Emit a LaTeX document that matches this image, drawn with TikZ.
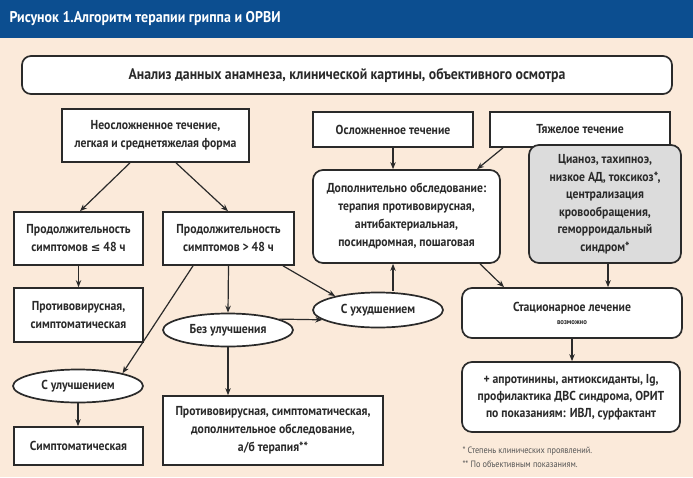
\documentclass[tikz,border=0pt]{standalone}
\usepackage{fontspec}
\setmainfont[FakeStretch=0.9]{PT Sans}
\newfontfamily\symf{DejaVu Sans}
\usetikzlibrary{arrows.meta,shapes.geometric}
\definecolor{barblue}{HTML}{0C4E90}
\definecolor{bgbeige}{HTML}{FBEADA}
\definecolor{ink}{HTML}{2A2A2A}
\definecolor{grayfill}{HTML}{DCDCDC}
\definecolor{notegray}{HTML}{555555}
\begin{document}
\begin{tikzpicture}[x=1pt,y=-1pt,
  box/.style={draw=ink, line width=1.7pt, fill=white, align=center, inner sep=0pt,
    text=ink, font=\bfseries\fontsize{13}{18}\selectfont},
  rbox/.style={box, rounded corners=10pt},
  oval/.style={draw=ink, line width=1.7pt, fill=white, ellipse, inner sep=0pt,
    text=ink, font=\bfseries\fontsize{13}{18}\selectfont},
  arr/.style={draw=ink, line width=1.2pt, -{Stealth[length=7pt,width=5.5pt]}},
  note/.style={anchor=west, text=notegray, font=\fontsize{9.2}{10}\selectfont}
]
\useasboundingbox (0,0) rectangle (693,477);
\fill[bgbeige] (0,0) rectangle (693,477);
\fill[barblue] (0,0) rectangle (693,38);
\node[anchor=west, text=white, font=\bfseries\fontsize{15.5}{17}\selectfont] (title) at (6,19)
  {Рисунок 1.Алгоритм терапии гриппа и ОРВИ};

\node[box, rounded corners=9pt, minimum width=650pt, minimum height=38pt,
  font=\bfseries\fontsize{15.3}{17}\selectfont] (top) at (347,75)
  {Анализ данных анамнеза, клинической картины, объективного осмотра};

\node[box, minimum width=187pt, minimum height=53pt] (neosl) at (155.5,135.5)
  {Неосложненное течение,\\легкая и среднетяжелая форма};
\node[box, minimum width=160pt, minimum height=35pt] (osl) at (393,129.5)
  {Осложненное течение};
\node[box, minimum width=180pt, minimum height=35pt] (tyazh) at (580,129.5)
  {Тяжелое течение};

\node[rbox, minimum width=187pt, minimum height=93pt] (dop) at (406.5,216.5)
  {Дополнительно обследование:\\терапия противовирусная,\\антибактериальная,\\посиндромная, пошаговая};
\node[rbox, fill=grayfill, minimum width=152pt, minimum height=118pt,
  font=\bfseries\fontsize{13}{17.5}\selectfont] (gray) at (605,204)
  {Цианоз, тахипноэ,\\низкое АД, токсикоз*,\\централизация\\кровообращения,\\геморроидальный\\синдром*};

\node[box, minimum width=129pt, minimum height=53pt] (pa) at (78.5,238.5)
  {Продолжительность\\симптомов {\symf\fontsize{11.5}{18}\selectfont ≤} 48 ч};
\node[box, minimum width=131pt, minimum height=53pt] (pb) at (228.5,238.5)
  {Продолжительность\\симптомов > 48 ч};

\node[box, minimum width=129pt, minimum height=54pt] (pvs) at (78.5,315)
  {Противовирусная,\\симптоматическая};
\node[oval, minimum width=130pt, minimum height=33pt] (bez) at (228,330) {Без улучшения};
\node[oval, minimum width=130pt, minimum height=35pt] (uhud) at (378,310) {С ухудшением};
\node[oval, minimum width=130pt, minimum height=33pt] (sul) at (78,386) {С улучшением};
\node[box, minimum width=129pt, minimum height=38pt] (simpt) at (78.5,446) {Симптоматическая};
\node[box, minimum width=220pt, minimum height=69pt] (big) at (273,430.5)
  {Противовирусная, симптоматическая,\\дополнительное обследование,\\а/б терапия**};

\node[rbox, minimum width=220pt, minimum height=50pt] (stat) at (572,313)
  {Стационарное лечение\\[-5pt]{\fontsize{7.5}{8}\selectfont возможно}};
\node[rbox, minimum width=218pt, minimum height=70pt,
  font=\bfseries\fontsize{13}{17}\selectfont] (br) at (571,397)
  {+ апротинины, антиоксиданты, Ig,\\профилактика ДВС синдрома, ОРИТ\\по показаниям: ИВЛ, сурфактант};

\node[note] (n1) at (459,451) {* Степень клинических проявлений.};
\node[note] (n2) at (459,464) {** По объективным показаниям.};

% connectors
\draw[arr] ([xshift=-25.5pt]neosl.south) -- ([xshift=1.5pt]pa.north);
\draw[arr] ([xshift=20.5pt]neosl.south) -- ([xshift=-0.5pt]pb.north);
\draw[arr] (pa.south) -- (pvs.north);
\draw[arr] (pb.south) -- (bez.north);
\draw[arr] ([xshift=54.5pt]pb.south) -- (uhud.162);
\draw[arr] ([xshift=-35.5pt]pb.south) -- (sul.16);
\draw[arr] (bez.12) -- (uhud.190);
\draw[arr] (bez.south) -- (bez.south |- big.north);
\draw[arr] (sul.south) -- (sul.south |- simpt.north);
\path (uhud.north) ++(15pt,0.5pt) coordinate (u1);
\draw[arr] (u1) -- (u1 |- dop.south);
\draw[arr] (osl.south) -- (osl.south |- dop.north);
\draw[arr] ([xshift=-77pt]tyazh.south) -- ([xshift=70.5pt]dop.north);
\draw[arr] ([xshift=73.5pt]dop.south) -- ([xshift=-68pt]stat.north);
\draw[arr] ([xshift=3pt]gray.south) -- ([xshift=3pt]gray.south |- stat.north);
\draw[arr] (stat.south) -- (stat.south |- br.north);
\end{tikzpicture}
\end{document}
